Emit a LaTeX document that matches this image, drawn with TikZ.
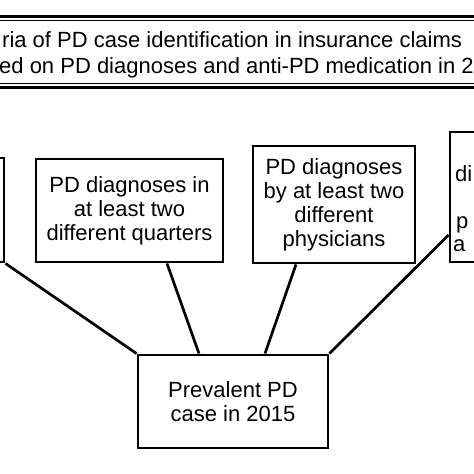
\documentclass[tikz,border=0pt]{standalone}
\usepackage{fontspec}
\setmainfont{Liberation Sans}
\usetikzlibrary{calc}
\begin{document}
\begin{tikzpicture}[x=1pt,y=-1pt,
  boxnode/.style={draw,line width=2.9pt,inner sep=0pt,align=center,
    font=\fontsize{22}{24}\selectfont},
  txt/.style={inner sep=0pt,font=\fontsize{22}{24}\selectfont},
  link/.style={line width=2.7pt}]
\useasboundingbox (0,0) rectangle (474,474);
\clip (0,0) rectangle (474,474);
% title frame
\draw[line width=2.6pt] (-10,16.5) rectangle (484,87.5);
\draw[line width=1.2pt] (-10,20.5) rectangle (484,83.8);
\node[txt,anchor=base west] (t1) at (2,47) {ria of PD case identification in insurance claims};
\node[txt,anchor=base west] (t2) at (-1,73) {ed on PD diagnoses and anti-PD medication in 2};
% boxes
\node[boxnode,minimum width=64pt,minimum height=104pt] (b1) at (-28,210) {};
\node[boxnode,minimum width=187pt,minimum height=103pt] (b2) at (129.5,210.5)
  {PD diagnoses in\\at least two\\different quarters};
\node[boxnode,minimum width=162pt,minimum height=117pt] (b3) at (334,204.5)
  {PD diagnoses\\by at least two\\different\\physicians};
\node[boxnode,minimum width=170pt,minimum height=130pt] (b4) at (535,197) {};
\node[txt,anchor=base west] (b4a) at (455,181) {di};
\node[txt,anchor=base west] (b4b) at (456,228) {p};
\node[txt,anchor=base west] (b4c) at (453,251) {a};
\node[boxnode,minimum width=190pt,minimum height=93pt] (res) at (233,401.5)
  {Prevalent PD\\case in 2015};
% connectors
\draw[link] (b1.south east) -- (res.north west);
\draw[link] ([xshift=37.5pt]b2.south) -- ([xshift=-34pt]res.north);
\draw[link] ([xshift=-38pt]b3.south) -- ([xshift=32pt]res.north);
\draw[link] ([yshift=-38pt]b4.west) -- (res.north east);
\end{tikzpicture}
\end{document}
